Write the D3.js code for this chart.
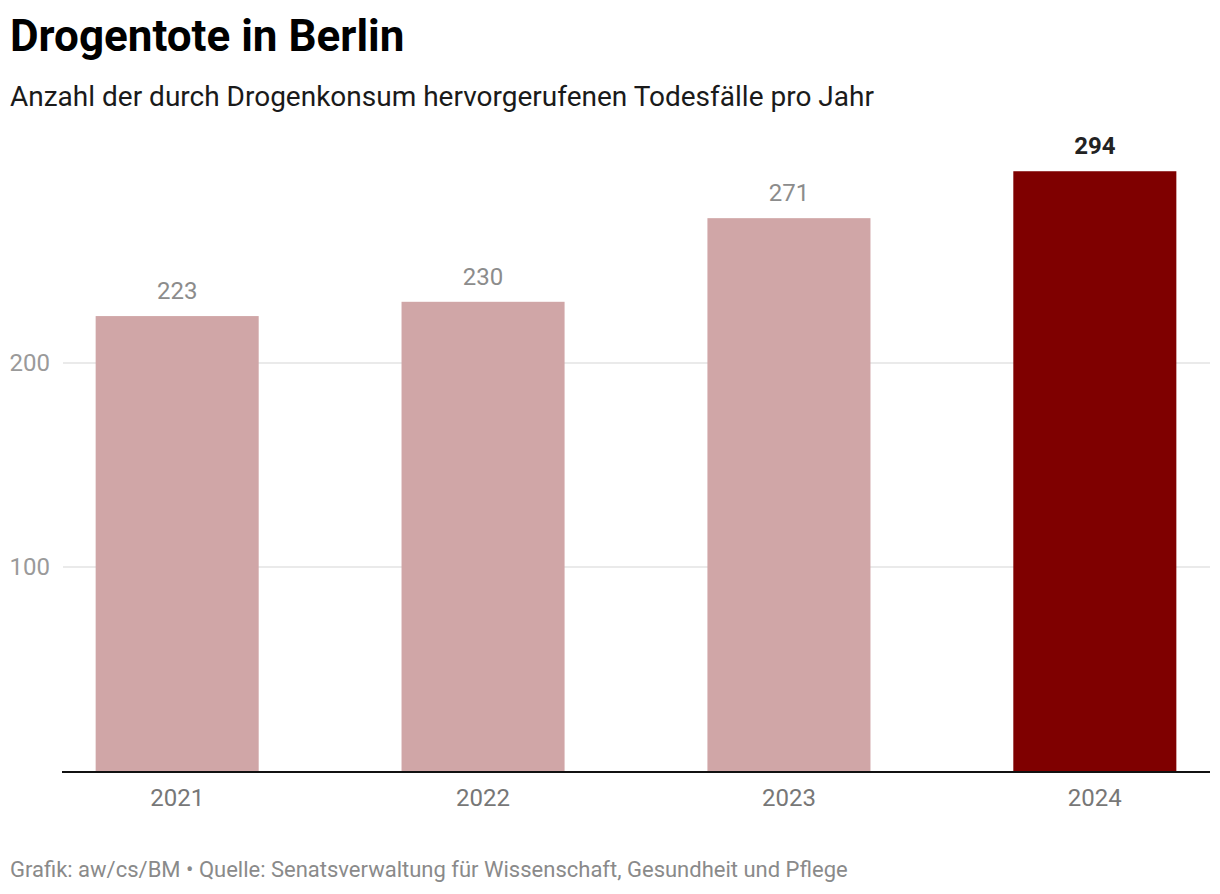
<!DOCTYPE html>
<html>
<head>
<meta charset="utf-8">
<script src="https://cdn.jsdelivr.net/npm/d3@7"></script>
<style>
  body { margin: 0; background: #fff; font-family: Roboto, sans-serif; }
</style>
</head>
<body>
<script>
// data
const years = ["2021", "2022", "2023", "2024"];
const deaths = [223, 230, 271, 294];
const yTicks = [100, 200];

const W = 1220, H = 894;
const svg = d3.select("body").append("svg")
  .attr("width", W)
  .attr("height", H);

svg.append("text")
  .attr("x", 10).attr("y", 51)
  .attr("font-size", 44).attr("font-weight", 700)
  .attr("fill", "#000")
  .text("Drogentote in Berlin");

svg.append("text")
  .attr("x", 10).attr("y", 106)
  .attr("font-size", 28)
  .attr("fill", "#1a1a1a")
  .text("Anzahl der durch Drogenkonsum hervorgerufenen Todesfälle pro Jahr");

const x = d3.scaleBand()
  .domain(years)
  .range([62, 1210])
  .paddingInner(0.467)
  .paddingOuter(0.11);

const y = d3.scaleLinear()
  .domain([0, 100])
  .range([771, 567]);

// gridlines + y labels
svg.selectAll(".grid")
  .data(yTicks)
  .enter().append("line")
  .attr("x1", 63).attr("x2", 1210)
  .attr("y1", d => y(d)).attr("y2", d => y(d))
  .attr("stroke", "#e3e3e3")
  .attr("stroke-width", 1.5);

svg.selectAll(".ylab")
  .data(yTicks)
  .enter().append("text")
  .attr("x", 50).attr("y", d => y(d) + 8)
  .attr("text-anchor", "end")
  .attr("font-size", 24)
  .attr("fill", "#9a9a9a")
  .text(d => d);

// bars
svg.selectAll(".bar")
  .data(deaths)
  .enter().append("rect")
  .attr("x", (d, i) => x(years[i]))
  .attr("width", x.bandwidth())
  .attr("y", d => y(d))
  .attr("height", d => y(0) - y(d))
  .attr("fill", (d, i) => i == years.length - 1 ? "#7f0000" : "#d0a6a7");

// value labels
svg.selectAll(".val")
  .data(deaths)
  .enter().append("text")
  .attr("x", (d, i) => x(years[i]) + x.bandwidth() / 2)
  .attr("y", d => y(d) - 17)
  .attr("text-anchor", "middle")
  .attr("font-size", 24)
  .attr("font-weight", (d, i) => i == years.length - 1 ? 700 : 400)
  .attr("fill", (d, i) => i == years.length - 1 ? "#222" : "#8c8c8c")
  .text(d => d);

// baseline
svg.append("line")
  .attr("x1", 62).attr("x2", 1210)
  .attr("y1", y(0) + 1).attr("y2", y(0) + 1)
  .attr("stroke", "#111")
  .attr("stroke-width", 2);

// x labels
svg.selectAll(".xlab")
  .data(years)
  .enter().append("text")
  .attr("x", d => x(d) + x.bandwidth() / 2)
  .attr("y", 806)
  .attr("text-anchor", "middle")
  .attr("font-size", 24)
  .attr("fill", "#777")
  .text(d => d);

svg.append("text")
  .attr("x", 10).attr("y", 877)
  .attr("font-size", 22)
  .attr("fill", "#8a8a8a")
  .text("Grafik: aw/cs/BM • Quelle: Senatsverwaltung für Wissenschaft, Gesundheit und Pflege");
</script>
</body>
</html>
